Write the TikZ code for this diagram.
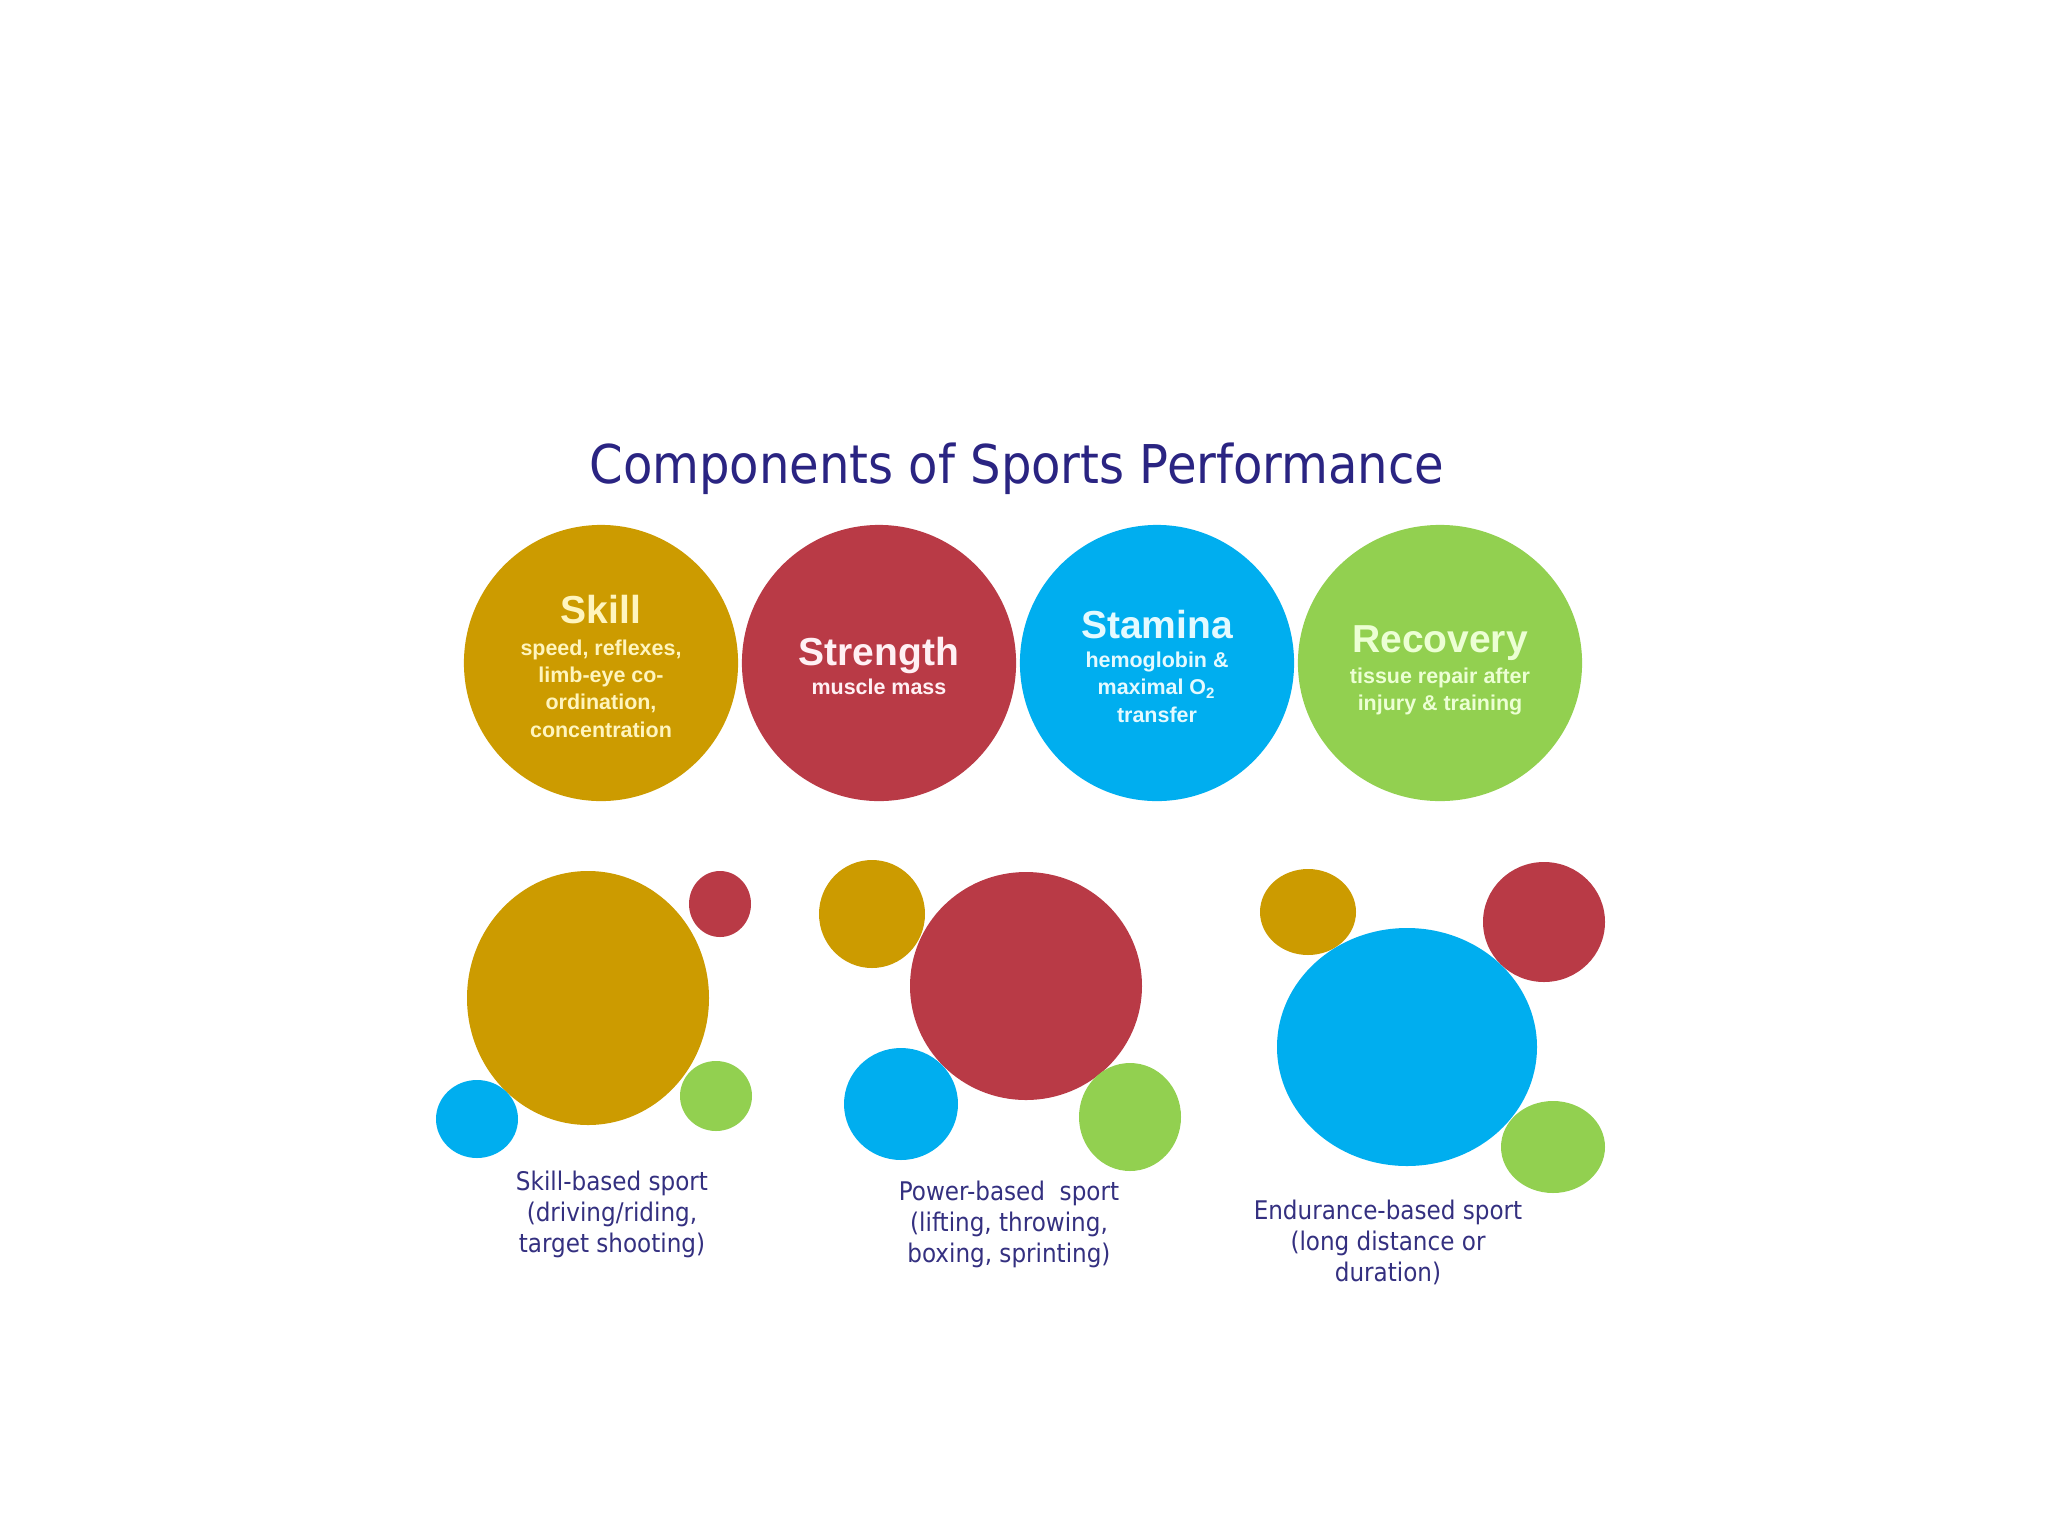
\documentclass[tikz,border=0pt]{standalone}
\usepackage{fontspec}
\usepackage{tikz}
\usetikzlibrary{shapes.geometric}
\setmainfont{Liberation Sans}
\newfontfamily\capfont{DejaVu Sans Condensed}
\definecolor{skillgold}{RGB}{204,155,0}
\definecolor{strengthred}{RGB}{185,58,70}
\definecolor{staminablue}{RGB}{0,174,239}
\definecolor{recoverygreen}{RGB}{146,208,80}
\definecolor{titlenavy}{RGB}{42,36,130}
\definecolor{capnavy}{RGB}{52,48,128}
\newcommand\headfont{\bfseries\fontsize{11.1}{12}\selectfont}
\newcommand\subfont{\bfseries\fontsize{6.1}{7.7}\selectfont}
\tikzset{
  ball/.style={ellipse, inner sep=0pt},
  balltext/.style={align=center, inner sep=0pt, font=\subfont},
  sportcap/.style={align=center, text=capnavy, font=\capfont\fontsize{7.3}{8.8}\selectfont}
}

\begin{document}
\begin{tikzpicture}[x=0.01cm,y=-0.01cm]
			%%%%% START %%%%%
			\useasboundingbox (0,0) rectangle (2048,1536);
			
			\node[text=titlenavy, font=\capfont\fontsize{15.2}{18}\selectfont] (title) at (1017,469) {Components of Sports Performance};
			
			% top row
			\node[ball, fill=skillgold, minimum width=2.74cm, minimum height=2.76cm] (skill) at (601,663) {};
			\node[ball, fill=strengthred, minimum width=2.74cm, minimum height=2.76cm] (strength) at (879,663) {};
			\node[ball, fill=staminablue, minimum width=2.74cm, minimum height=2.76cm] (stamina) at (1157,663) {};
			\node[ball, fill=recoverygreen, minimum width=2.84cm, minimum height=2.76cm] (recovery) at (1440,663) {};
			
			\node[balltext, text={rgb,255:red,255;green,245;blue,190}] (skilltext) at (601,666)
				{{\headfont Skill}\\[1.6pt] speed, reflexes,\\ limb-eye co-\\ ordination,\\ concentration};
			\node[balltext, text={rgb,255:red,255;green,240;blue,244}] (strengthtext) at (879,666)
				{{\headfont Strength}\\[0.8pt] muscle mass};
			\node[balltext, text={rgb,255:red,228;green,250;blue,255}] (staminatext) at (1157,666)
				{{\headfont Stamina}\\[0.8pt] hemoglobin \&\\ maximal O\textsubscript{2}\\ transfer};
			\node[balltext, text={rgb,255:red,236;green,255;blue,212}] (recoverytext) at (1440,670)
				{{\headfont Recovery}\\[1.1pt] tissue repair after\\ injury \& training};
			
			% skill-based
			\fill[skillgold] (588,998) ellipse (121 and 127);
			\fill[strengthred] (720,904) ellipse (31 and 33);
			\fill[staminablue] (477,1119) ellipse (41 and 39);
			\fill[recoverygreen] (716,1096) ellipse (36 and 35);
			
			% power-based
			\fill[strengthred] (1026,986) ellipse (116 and 114);
			\fill[skillgold] (872,914) ellipse (53 and 54);
			\fill[staminablue] (901,1104) ellipse (57 and 56);
			\fill[recoverygreen] (1130,1117) ellipse (51 and 54);
			
			% endurance-based
			\fill[skillgold] (1308,912) ellipse (48 and 43);
			\fill[staminablue] (1407,1047) ellipse (130 and 119);
			\fill[strengthred] (1544,922) ellipse (61 and 60);
			\fill[recoverygreen] (1553,1147) ellipse (52 and 46);
			
			\node[sportcap] (skillcap) at (612,1214) {Skill-based sport\\ (driving/riding,\\ target shooting)};
			\node[sportcap] (powercap) at (1009,1224) {Power-based~~sport\\ (lifting, throwing,\\ boxing, sprinting)};
			\node[sportcap] (endurcap) at (1388,1242) {Endurance-based sport\\ (long distance or\\ duration)};
			%%%%% END %%%%%
		\end{tikzpicture}
\end{document}
